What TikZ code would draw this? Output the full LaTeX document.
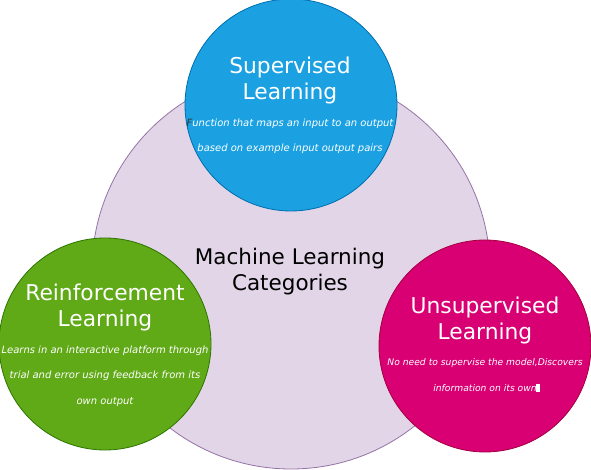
\documentclass[tikz,border=0pt]{standalone}
\usepackage{fontspec}
\setmainfont{DejaVu Sans}
\definecolor{mlfill}{HTML}{E1D5E7}
\definecolor{mldraw}{HTML}{9673A6}
\definecolor{supfill}{HTML}{1BA1E2}
\definecolor{supdraw}{HTML}{006EAF}
\definecolor{reinfill}{HTML}{60A917}
\definecolor{reindraw}{HTML}{2D7600}
\definecolor{unsfill}{HTML}{D80073}
\definecolor{unsdraw}{HTML}{A50040}
\tikzset{
  bigcirc/.style={circle, inner sep=0pt, minimum size=398pt, fill=mlfill, draw=mldraw, line width=0.8pt},
  catcirc/.style={circle, inner sep=0pt, minimum size=212pt, line width=0.8pt},
  titletxt/.style={anchor=base, align=center, text=white, inner sep=0pt, font=\fontsize{21.8}{26}\selectfont},
  desctxt/.style={anchor=base, align=center, text=white, inner sep=0pt, font=\fontsize{10}{25.5}\selectfont\itshape},
  centertxt/.style={anchor=base, align=center, text=black, inner sep=0pt, font=\fontsize{21.5}{26}\selectfont}
}
\begin{document}
\begin{tikzpicture}[x=1pt,y=-1pt]
\useasboundingbox (0,0) rectangle (591,470);
\node[bigcirc] (ml) at (291,270) {};
\node[catcirc, fill=supfill, draw=supdraw] (sup) at (291,105) {};
\node[catcirc, fill=reinfill, draw=reindraw] (rein) at (105,344) {};
\node[catcirc, fill=unsfill, draw=unsdraw] (uns) at (485,346) {};
\node[centertxt] (mlt) at (290,290) {Machine Learning\\Categories};
\node[titletxt] (supt) at (290,100) {Supervised\\Learning};
\node[desctxt] (supd) at (290,152) {{\color{black!80}F}unction that maps an input to an output\\based on example input output pairs};
\node[titletxt] (reint) at (105,326) {Reinforcement\\Learning};
\node[desctxt] (reind) at (105,404) {Learns in an interactive platform through\\trial and error using feedback from its\\own output};
\node[titletxt] (unst) at (485,339) {Unsupervised\\Learning};
\node[desctxt, font=\fontsize{9.2}{25.5}\selectfont\itshape] (unsd) at (485,391) {No need to supervise the model,Discovers\\information on its own\rlap{\kern-1pt\color{white}\rule[-1pt]{4pt}{8pt}}};
\end{tikzpicture}
\end{document}
